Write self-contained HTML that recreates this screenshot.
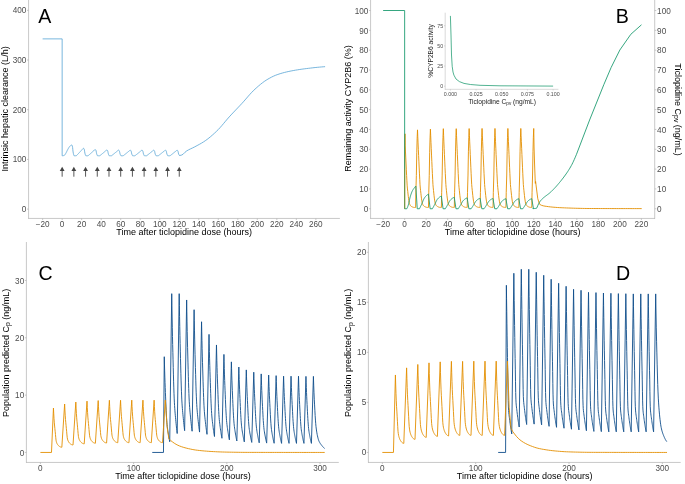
<!DOCTYPE html>
<html><head><meta charset="utf-8"><title>Figure</title>
<style>html,body{margin:0;padding:0;background:#fff;}svg{display:block}text{font-family:"Liberation Sans", Arial, Helvetica, sans-serif;}</style>
</head><body>
<svg width="685" height="484" viewBox="0 0 685 484">
<rect width="685" height="484" fill="#fff"/>
<line x1="28.58" y1="0" x2="28.58" y2="218.75" stroke="#b2b2b2" stroke-width="0.7"/>
<line x1="28.28" y1="218.45" x2="339.9" y2="218.45" stroke="#b2b2b2" stroke-width="0.7"/>
<line x1="26.98" y1="209.1" x2="28.58" y2="209.1" stroke="#b2b2b2" stroke-width="0.7"/>
<text x="26.38" y="212" font-size="8.2" fill="#4d4d4d" text-anchor="end" >0</text>
<line x1="26.98" y1="159.4" x2="28.58" y2="159.4" stroke="#b2b2b2" stroke-width="0.7"/>
<text x="26.38" y="162.3" font-size="8.2" fill="#4d4d4d" text-anchor="end" >100</text>
<line x1="26.98" y1="109.7" x2="28.58" y2="109.7" stroke="#b2b2b2" stroke-width="0.7"/>
<text x="26.38" y="112.6" font-size="8.2" fill="#4d4d4d" text-anchor="end" >200</text>
<line x1="26.98" y1="60" x2="28.58" y2="60" stroke="#b2b2b2" stroke-width="0.7"/>
<text x="26.38" y="62.9" font-size="8.2" fill="#4d4d4d" text-anchor="end" >300</text>
<line x1="26.98" y1="10.3" x2="28.58" y2="10.3" stroke="#b2b2b2" stroke-width="0.7"/>
<text x="26.38" y="13.2" font-size="8.2" fill="#4d4d4d" text-anchor="end" >400</text>
<line x1="42.63" y1="218.45" x2="42.63" y2="220.05" stroke="#b2b2b2" stroke-width="0.7"/>
<text x="42.63" y="226.8" font-size="8.2" fill="#4d4d4d" text-anchor="middle" >−20</text>
<line x1="62.15" y1="218.45" x2="62.15" y2="220.05" stroke="#b2b2b2" stroke-width="0.7"/>
<text x="62.15" y="226.8" font-size="8.2" fill="#4d4d4d" text-anchor="middle" >0</text>
<line x1="81.67" y1="218.45" x2="81.67" y2="220.05" stroke="#b2b2b2" stroke-width="0.7"/>
<text x="81.67" y="226.8" font-size="8.2" fill="#4d4d4d" text-anchor="middle" >20</text>
<line x1="101.18" y1="218.45" x2="101.18" y2="220.05" stroke="#b2b2b2" stroke-width="0.7"/>
<text x="101.18" y="226.8" font-size="8.2" fill="#4d4d4d" text-anchor="middle" >40</text>
<line x1="120.7" y1="218.45" x2="120.7" y2="220.05" stroke="#b2b2b2" stroke-width="0.7"/>
<text x="120.7" y="226.8" font-size="8.2" fill="#4d4d4d" text-anchor="middle" >60</text>
<line x1="140.21" y1="218.45" x2="140.21" y2="220.05" stroke="#b2b2b2" stroke-width="0.7"/>
<text x="140.21" y="226.8" font-size="8.2" fill="#4d4d4d" text-anchor="middle" >80</text>
<line x1="159.73" y1="218.45" x2="159.73" y2="220.05" stroke="#b2b2b2" stroke-width="0.7"/>
<text x="159.73" y="226.8" font-size="8.2" fill="#4d4d4d" text-anchor="middle" >100</text>
<line x1="179.25" y1="218.45" x2="179.25" y2="220.05" stroke="#b2b2b2" stroke-width="0.7"/>
<text x="179.25" y="226.8" font-size="8.2" fill="#4d4d4d" text-anchor="middle" >120</text>
<line x1="198.76" y1="218.45" x2="198.76" y2="220.05" stroke="#b2b2b2" stroke-width="0.7"/>
<text x="198.76" y="226.8" font-size="8.2" fill="#4d4d4d" text-anchor="middle" >140</text>
<line x1="218.28" y1="218.45" x2="218.28" y2="220.05" stroke="#b2b2b2" stroke-width="0.7"/>
<text x="218.28" y="226.8" font-size="8.2" fill="#4d4d4d" text-anchor="middle" >160</text>
<line x1="237.79" y1="218.45" x2="237.79" y2="220.05" stroke="#b2b2b2" stroke-width="0.7"/>
<text x="237.79" y="226.8" font-size="8.2" fill="#4d4d4d" text-anchor="middle" >180</text>
<line x1="257.31" y1="218.45" x2="257.31" y2="220.05" stroke="#b2b2b2" stroke-width="0.7"/>
<text x="257.31" y="226.8" font-size="8.2" fill="#4d4d4d" text-anchor="middle" >200</text>
<line x1="276.83" y1="218.45" x2="276.83" y2="220.05" stroke="#b2b2b2" stroke-width="0.7"/>
<text x="276.83" y="226.8" font-size="8.2" fill="#4d4d4d" text-anchor="middle" >220</text>
<line x1="296.34" y1="218.45" x2="296.34" y2="220.05" stroke="#b2b2b2" stroke-width="0.7"/>
<text x="296.34" y="226.8" font-size="8.2" fill="#4d4d4d" text-anchor="middle" >240</text>
<line x1="315.86" y1="218.45" x2="315.86" y2="220.05" stroke="#b2b2b2" stroke-width="0.7"/>
<text x="315.86" y="226.8" font-size="8.2" fill="#4d4d4d" text-anchor="middle" >260</text>
<text x="184.2" y="235.4" font-size="9.0" fill="#000" text-anchor="middle" >Time after ticlopidine dose (hours)</text>
<text x="0" y="0" font-size="9.0" fill="#000" text-anchor="middle" transform="translate(8.2,108.9) rotate(-90)">Intrinsic hepatic clearance (L/h)</text>
<polyline points="42.63,38.88 62.15,38.88 62.15,155.77 62.15,155.77 62.39,155.77 62.64,155.75 62.88,155.73 63.12,155.69 63.36,155.65 63.61,155.6 63.85,155.54 64.09,155.48 64.34,155.39 64.58,155.19 64.82,154.9 65.07,154.54 65.31,154.14 65.55,153.74 65.79,153.35 66.04,152.93 66.28,152.48 66.52,151.99 66.77,151.48 67.01,150.97 67.25,150.47 67.49,149.98 67.74,149.53 67.98,149.11 68.22,148.69 68.47,148.27 68.71,147.86 68.95,147.46 69.2,147.09 69.44,146.76 69.68,146.46 69.92,146.22 70.17,145.98 70.41,145.75 70.65,145.52 70.9,145.33 71.14,145.17 71.38,145.05 71.63,144.99 71.87,145.07 72.11,145.5 72.35,146.16 72.6,147.45 72.84,149.75 73.08,151.95 73.33,153.28 73.57,154.37 73.81,155.24 74.05,155.77 74.15,155.77 74.39,155.77 74.63,155.77 74.87,155.77 75.11,155.77 75.35,155.77 75.59,155.77 75.83,155.77 76.06,155.77 76.3,155.7 76.54,155.55 76.78,155.34 77.02,155.09 77.26,154.82 77.5,154.55 77.74,154.31 77.98,154.07 78.21,153.83 78.45,153.58 78.69,153.32 78.93,153.05 79.17,152.79 79.41,152.52 79.65,152.26 79.89,152.01 80.13,151.75 80.37,151.49 80.6,151.23 80.84,150.97 81.08,150.71 81.32,150.46 81.56,150.21 81.8,149.96 82.04,149.68 82.28,149.37 82.52,149.07 82.76,148.79 82.99,148.56 83.23,148.39 83.47,148.32 83.71,148.41 83.95,148.72 84.19,149.18 84.43,150.16 84.67,151.74 84.91,153.21 85.15,154.09 85.38,154.83 85.62,155.41 85.86,155.77 85.86,155.77 86.1,155.77 86.34,155.77 86.58,155.77 86.82,155.77 87.06,155.77 87.3,155.77 87.53,155.77 87.77,155.77 88.01,155.71 88.25,155.59 88.49,155.41 88.73,155.2 88.97,154.98 89.21,154.76 89.45,154.55 89.69,154.36 89.92,154.15 90.16,153.94 90.4,153.73 90.64,153.51 90.88,153.29 91.12,153.07 91.36,152.85 91.6,152.63 91.84,152.42 92.08,152.2 92.31,151.99 92.55,151.77 92.79,151.56 93.03,151.35 93.27,151.14 93.51,150.93 93.75,150.69 93.99,150.44 94.23,150.19 94.46,149.95 94.7,149.76 94.94,149.62 95.18,149.56 95.42,149.63 95.66,149.9 95.9,150.28 96.14,151.09 96.38,152.42 96.62,153.64 96.85,154.37 97.09,154.98 97.33,155.47 97.57,155.77 97.57,155.77 97.81,155.77 98.05,155.77 98.29,155.77 98.53,155.77 98.77,155.77 99.01,155.77 99.24,155.77 99.48,155.77 99.72,155.71 99.96,155.6 100.2,155.44 100.44,155.24 100.68,155.04 100.92,154.83 101.16,154.64 101.4,154.46 101.63,154.27 101.87,154.08 102.11,153.87 102.35,153.67 102.59,153.46 102.83,153.26 103.07,153.06 103.31,152.86 103.55,152.66 103.78,152.46 104.02,152.26 104.26,152.06 104.5,151.86 104.74,151.67 104.98,151.47 105.22,151.28 105.46,151.06 105.7,150.82 105.94,150.59 106.17,150.37 106.41,150.19 106.65,150.07 106.89,150.01 107.13,150.08 107.37,150.32 107.61,150.68 107.85,151.43 108.09,152.66 108.33,153.79 108.56,154.47 108.8,155.04 109.04,155.49 109.28,155.77 109.28,155.77 109.52,155.77 109.76,155.77 110,155.77 110.24,155.77 110.48,155.77 110.71,155.77 110.95,155.77 111.19,155.77 111.43,155.72 111.67,155.6 111.91,155.45 112.15,155.26 112.39,155.06 112.63,154.85 112.87,154.67 113.1,154.49 113.34,154.31 113.58,154.12 113.82,153.92 114.06,153.72 114.3,153.52 114.54,153.33 114.78,153.13 115.02,152.94 115.26,152.74 115.49,152.55 115.73,152.35 115.97,152.15 116.21,151.96 116.45,151.77 116.69,151.58 116.93,151.4 117.17,151.18 117.41,150.95 117.65,150.72 117.88,150.51 118.12,150.34 118.36,150.21 118.6,150.16 118.84,150.22 119.08,150.46 119.32,150.81 119.56,151.54 119.8,152.74 120.03,153.84 120.27,154.5 120.51,155.06 120.75,155.5 120.99,155.77 120.99,155.77 121.23,155.77 121.47,155.77 121.71,155.77 121.95,155.77 122.19,155.77 122.42,155.77 122.66,155.77 122.9,155.77 123.14,155.72 123.38,155.6 123.62,155.45 123.86,155.26 124.1,155.06 124.34,154.86 124.58,154.68 124.81,154.5 125.05,154.32 125.29,154.13 125.53,153.94 125.77,153.74 126.01,153.54 126.25,153.35 126.49,153.15 126.73,152.96 126.97,152.77 127.2,152.57 127.44,152.38 127.68,152.19 127.92,152 128.16,151.81 128.4,151.62 128.64,151.43 128.88,151.22 129.12,150.99 129.35,150.77 129.59,150.56 129.83,150.39 130.07,150.26 130.31,150.21 130.55,150.27 130.79,150.51 131.03,150.85 131.27,151.58 131.51,152.76 131.74,153.86 131.98,154.51 132.22,155.07 132.46,155.5 132.7,155.77 132.7,155.77 132.94,155.77 133.18,155.77 133.42,155.77 133.66,155.77 133.9,155.77 134.13,155.77 134.37,155.77 134.61,155.77 134.85,155.72 135.09,155.6 135.33,155.45 135.57,155.26 135.81,155.06 136.05,154.86 136.28,154.68 136.52,154.5 136.76,154.32 137,154.13 137.24,153.94 137.48,153.74 137.72,153.54 137.96,153.35 138.2,153.15 138.44,152.96 138.67,152.77 138.91,152.57 139.15,152.38 139.39,152.19 139.63,152 139.87,151.81 140.11,151.62 140.35,151.43 140.59,151.22 140.83,150.99 141.06,150.77 141.3,150.56 141.54,150.39 141.78,150.26 142.02,150.21 142.26,150.27 142.5,150.51 142.74,150.85 142.98,151.58 143.22,152.76 143.45,153.86 143.69,154.51 143.93,155.07 144.17,155.5 144.41,155.77 144.41,155.77 144.65,155.77 144.89,155.77 145.13,155.77 145.37,155.77 145.6,155.77 145.84,155.77 146.08,155.77 146.32,155.77 146.56,155.72 146.8,155.6 147.04,155.45 147.28,155.26 147.52,155.06 147.76,154.86 147.99,154.68 148.23,154.5 148.47,154.32 148.71,154.13 148.95,153.94 149.19,153.74 149.43,153.54 149.67,153.35 149.91,153.15 150.15,152.96 150.38,152.77 150.62,152.57 150.86,152.38 151.1,152.19 151.34,152 151.58,151.81 151.82,151.62 152.06,151.43 152.3,151.22 152.53,150.99 152.77,150.77 153.01,150.56 153.25,150.39 153.49,150.26 153.73,150.21 153.97,150.27 154.21,150.51 154.45,150.85 154.69,151.58 154.92,152.76 155.16,153.86 155.4,154.51 155.64,155.07 155.88,155.5 156.12,155.77 156.12,155.77 156.36,155.77 156.6,155.77 156.84,155.77 157.08,155.77 157.31,155.77 157.55,155.77 157.79,155.77 158.03,155.77 158.27,155.72 158.51,155.6 158.75,155.45 158.99,155.26 159.23,155.06 159.47,154.86 159.7,154.68 159.94,154.5 160.18,154.32 160.42,154.13 160.66,153.94 160.9,153.74 161.14,153.54 161.38,153.35 161.62,153.15 161.85,152.96 162.09,152.77 162.33,152.57 162.57,152.38 162.81,152.19 163.05,152 163.29,151.81 163.53,151.62 163.77,151.43 164.01,151.22 164.24,150.99 164.48,150.77 164.72,150.56 164.96,150.39 165.2,150.26 165.44,150.21 165.68,150.27 165.92,150.51 166.16,150.85 166.4,151.58 166.63,152.76 166.87,153.86 167.11,154.51 167.35,155.07 167.59,155.5 167.83,155.77 167.83,155.77 168.07,155.77 168.31,155.77 168.55,155.77 168.79,155.77 169.02,155.77 169.26,155.77 169.5,155.77 169.74,155.77 169.98,155.72 170.22,155.61 170.46,155.45 170.7,155.27 170.94,155.07 171.17,154.87 171.41,154.69 171.65,154.52 171.89,154.34 172.13,154.15 172.37,153.96 172.61,153.76 172.85,153.56 173.09,153.37 173.33,153.18 173.56,152.99 173.8,152.79 174.04,152.6 174.28,152.41 174.52,152.22 174.76,152.03 175,151.84 175.24,151.66 175.48,151.47 175.72,151.26 175.95,151.04 176.19,150.81 176.43,150.61 176.67,150.43 176.91,150.31 177.15,150.26 177.39,150.32 177.63,150.56 177.87,150.9 178.1,151.64 178.34,152.84 178.58,153.9 178.82,154.47 179.06,154.93 179.3,155.28 179.54,155.42 179.43,155.5 181.27,155.19 183.12,154.24 184.96,152.31 186.8,150.84 188.65,149.8 190.49,148.9 192.34,148.04 194.18,147.15 196.02,146.16 197.87,145.17 199.71,144.16 201.55,143.11 203.4,141.98 205.24,140.76 207.09,139.43 208.93,138 210.77,136.49 212.62,134.89 214.46,133.22 216.3,131.49 218.15,129.68 219.99,127.71 221.84,125.6 223.68,123.42 225.52,121.21 227.37,119.02 229.21,116.92 231.05,114.91 232.9,112.94 234.74,111 236.59,109.07 238.43,107.14 240.27,105.19 242.12,103.22 243.96,101.17 245.8,99.05 247.65,96.92 249.49,94.81 251.34,92.78 253.18,90.88 255.02,89.13 256.87,87.46 258.71,85.84 260.56,84.3 262.4,82.84 264.24,81.48 266.09,80.24 267.93,79.12 269.77,78.07 271.62,77.09 273.46,76.19 275.31,75.39 277.15,74.69 278.99,74.06 280.84,73.48 282.68,72.94 284.52,72.45 286.37,71.99 288.21,71.57 290.06,71.18 291.9,70.82 293.74,70.47 295.59,70.15 297.43,69.85 299.27,69.56 301.12,69.29 302.96,69.03 304.81,68.79 306.65,68.55 308.49,68.32 310.34,68.1 312.18,67.88 314.02,67.67 315.87,67.48 317.71,67.29 319.56,67.11 321.4,66.95 323.24,66.8 325.09,66.66" fill="none" stroke="#56a3d4" stroke-width="0.8" stroke-linejoin="miter" />
<path d="M62.15,176.7 V170.5" stroke="#444" stroke-width="0.9" fill="none"/>
<path d="M62.15,166.7 L64.55,170.9 L59.75,170.9 Z" fill="#444"/>
<path d="M73.86,176.7 V170.5" stroke="#444" stroke-width="0.9" fill="none"/>
<path d="M73.86,166.7 L76.26,170.9 L71.46,170.9 Z" fill="#444"/>
<path d="M85.57,176.7 V170.5" stroke="#444" stroke-width="0.9" fill="none"/>
<path d="M85.57,166.7 L87.97,170.9 L83.17,170.9 Z" fill="#444"/>
<path d="M97.28,176.7 V170.5" stroke="#444" stroke-width="0.9" fill="none"/>
<path d="M97.28,166.7 L99.68,170.9 L94.88,170.9 Z" fill="#444"/>
<path d="M108.99,176.7 V170.5" stroke="#444" stroke-width="0.9" fill="none"/>
<path d="M108.99,166.7 L111.39,170.9 L106.59,170.9 Z" fill="#444"/>
<path d="M120.7,176.7 V170.5" stroke="#444" stroke-width="0.9" fill="none"/>
<path d="M120.7,166.7 L123.1,170.9 L118.3,170.9 Z" fill="#444"/>
<path d="M132.41,176.7 V170.5" stroke="#444" stroke-width="0.9" fill="none"/>
<path d="M132.41,166.7 L134.81,170.9 L130.01,170.9 Z" fill="#444"/>
<path d="M144.12,176.7 V170.5" stroke="#444" stroke-width="0.9" fill="none"/>
<path d="M144.12,166.7 L146.52,170.9 L141.72,170.9 Z" fill="#444"/>
<path d="M155.83,176.7 V170.5" stroke="#444" stroke-width="0.9" fill="none"/>
<path d="M155.83,166.7 L158.23,170.9 L153.43,170.9 Z" fill="#444"/>
<path d="M167.54,176.7 V170.5" stroke="#444" stroke-width="0.9" fill="none"/>
<path d="M167.54,166.7 L169.94,170.9 L165.14,170.9 Z" fill="#444"/>
<path d="M179.25,176.7 V170.5" stroke="#444" stroke-width="0.9" fill="none"/>
<path d="M179.25,166.7 L181.65,170.9 L176.85,170.9 Z" fill="#444"/>
<text x="44.9" y="23" font-size="19.6" fill="#000" text-anchor="middle" font-family="DejaVu Sans, sans-serif">A</text>
<line x1="370.58" y1="0" x2="370.58" y2="218.75" stroke="#b2b2b2" stroke-width="0.7"/>
<line x1="370.28" y1="218.45" x2="655" y2="218.45" stroke="#b2b2b2" stroke-width="0.7"/>
<line x1="654.7" y1="0" x2="654.7" y2="218.75" stroke="#b2b2b2" stroke-width="0.7"/>
<line x1="368.98" y1="208.75" x2="370.58" y2="208.75" stroke="#b2b2b2" stroke-width="0.7"/>
<text x="368.38" y="211.95" font-size="8.2" fill="#4d4d4d" text-anchor="end" >0</text>
<line x1="654.7" y1="208.75" x2="656.3" y2="208.75" stroke="#b2b2b2" stroke-width="0.7"/>
<text x="657.1" y="211.95" font-size="8.2" fill="#4d4d4d" text-anchor="start" >0</text>
<line x1="368.98" y1="188.93" x2="370.58" y2="188.93" stroke="#b2b2b2" stroke-width="0.7"/>
<text x="368.38" y="192.12" font-size="8.2" fill="#4d4d4d" text-anchor="end" >10</text>
<line x1="654.7" y1="188.93" x2="656.3" y2="188.93" stroke="#b2b2b2" stroke-width="0.7"/>
<text x="657.1" y="192.12" font-size="8.2" fill="#4d4d4d" text-anchor="start" >10</text>
<line x1="368.98" y1="169.1" x2="370.58" y2="169.1" stroke="#b2b2b2" stroke-width="0.7"/>
<text x="368.38" y="172.3" font-size="8.2" fill="#4d4d4d" text-anchor="end" >20</text>
<line x1="654.7" y1="169.1" x2="656.3" y2="169.1" stroke="#b2b2b2" stroke-width="0.7"/>
<text x="657.1" y="172.3" font-size="8.2" fill="#4d4d4d" text-anchor="start" >20</text>
<line x1="368.98" y1="149.28" x2="370.58" y2="149.28" stroke="#b2b2b2" stroke-width="0.7"/>
<text x="368.38" y="152.47" font-size="8.2" fill="#4d4d4d" text-anchor="end" >30</text>
<line x1="654.7" y1="149.28" x2="656.3" y2="149.28" stroke="#b2b2b2" stroke-width="0.7"/>
<text x="657.1" y="152.47" font-size="8.2" fill="#4d4d4d" text-anchor="start" >30</text>
<line x1="368.98" y1="129.45" x2="370.58" y2="129.45" stroke="#b2b2b2" stroke-width="0.7"/>
<text x="368.38" y="132.65" font-size="8.2" fill="#4d4d4d" text-anchor="end" >40</text>
<line x1="654.7" y1="129.45" x2="656.3" y2="129.45" stroke="#b2b2b2" stroke-width="0.7"/>
<text x="657.1" y="132.65" font-size="8.2" fill="#4d4d4d" text-anchor="start" >40</text>
<line x1="368.98" y1="109.62" x2="370.58" y2="109.62" stroke="#b2b2b2" stroke-width="0.7"/>
<text x="368.38" y="112.83" font-size="8.2" fill="#4d4d4d" text-anchor="end" >50</text>
<line x1="654.7" y1="109.62" x2="656.3" y2="109.62" stroke="#b2b2b2" stroke-width="0.7"/>
<text x="657.1" y="112.83" font-size="8.2" fill="#4d4d4d" text-anchor="start" >50</text>
<line x1="368.98" y1="89.8" x2="370.58" y2="89.8" stroke="#b2b2b2" stroke-width="0.7"/>
<text x="368.38" y="93" font-size="8.2" fill="#4d4d4d" text-anchor="end" >60</text>
<line x1="654.7" y1="89.8" x2="656.3" y2="89.8" stroke="#b2b2b2" stroke-width="0.7"/>
<text x="657.1" y="93" font-size="8.2" fill="#4d4d4d" text-anchor="start" >60</text>
<line x1="368.98" y1="69.97" x2="370.58" y2="69.97" stroke="#b2b2b2" stroke-width="0.7"/>
<text x="368.38" y="73.17" font-size="8.2" fill="#4d4d4d" text-anchor="end" >70</text>
<line x1="654.7" y1="69.97" x2="656.3" y2="69.97" stroke="#b2b2b2" stroke-width="0.7"/>
<text x="657.1" y="73.17" font-size="8.2" fill="#4d4d4d" text-anchor="start" >70</text>
<line x1="368.98" y1="50.15" x2="370.58" y2="50.15" stroke="#b2b2b2" stroke-width="0.7"/>
<text x="368.38" y="53.35" font-size="8.2" fill="#4d4d4d" text-anchor="end" >80</text>
<line x1="654.7" y1="50.15" x2="656.3" y2="50.15" stroke="#b2b2b2" stroke-width="0.7"/>
<text x="657.1" y="53.35" font-size="8.2" fill="#4d4d4d" text-anchor="start" >80</text>
<line x1="368.98" y1="30.33" x2="370.58" y2="30.33" stroke="#b2b2b2" stroke-width="0.7"/>
<text x="368.38" y="33.53" font-size="8.2" fill="#4d4d4d" text-anchor="end" >90</text>
<line x1="654.7" y1="30.33" x2="656.3" y2="30.33" stroke="#b2b2b2" stroke-width="0.7"/>
<text x="657.1" y="33.53" font-size="8.2" fill="#4d4d4d" text-anchor="start" >90</text>
<line x1="368.98" y1="10.5" x2="370.58" y2="10.5" stroke="#b2b2b2" stroke-width="0.7"/>
<text x="368.38" y="13.7" font-size="8.2" fill="#4d4d4d" text-anchor="end" >100</text>
<line x1="654.7" y1="10.5" x2="656.3" y2="10.5" stroke="#b2b2b2" stroke-width="0.7"/>
<text x="657.1" y="13.7" font-size="8.2" fill="#4d4d4d" text-anchor="start" >100</text>
<line x1="383.13" y1="218.45" x2="383.13" y2="220.05" stroke="#b2b2b2" stroke-width="0.7"/>
<text x="383.13" y="226.8" font-size="8.2" fill="#4d4d4d" text-anchor="middle" >−20</text>
<line x1="404.65" y1="218.45" x2="404.65" y2="220.05" stroke="#b2b2b2" stroke-width="0.7"/>
<text x="404.65" y="226.8" font-size="8.2" fill="#4d4d4d" text-anchor="middle" >0</text>
<line x1="426.17" y1="218.45" x2="426.17" y2="220.05" stroke="#b2b2b2" stroke-width="0.7"/>
<text x="426.17" y="226.8" font-size="8.2" fill="#4d4d4d" text-anchor="middle" >20</text>
<line x1="447.69" y1="218.45" x2="447.69" y2="220.05" stroke="#b2b2b2" stroke-width="0.7"/>
<text x="447.69" y="226.8" font-size="8.2" fill="#4d4d4d" text-anchor="middle" >40</text>
<line x1="469.22" y1="218.45" x2="469.22" y2="220.05" stroke="#b2b2b2" stroke-width="0.7"/>
<text x="469.22" y="226.8" font-size="8.2" fill="#4d4d4d" text-anchor="middle" >60</text>
<line x1="490.74" y1="218.45" x2="490.74" y2="220.05" stroke="#b2b2b2" stroke-width="0.7"/>
<text x="490.74" y="226.8" font-size="8.2" fill="#4d4d4d" text-anchor="middle" >80</text>
<line x1="512.26" y1="218.45" x2="512.26" y2="220.05" stroke="#b2b2b2" stroke-width="0.7"/>
<text x="512.26" y="226.8" font-size="8.2" fill="#4d4d4d" text-anchor="middle" >100</text>
<line x1="533.78" y1="218.45" x2="533.78" y2="220.05" stroke="#b2b2b2" stroke-width="0.7"/>
<text x="533.78" y="226.8" font-size="8.2" fill="#4d4d4d" text-anchor="middle" >120</text>
<line x1="555.3" y1="218.45" x2="555.3" y2="220.05" stroke="#b2b2b2" stroke-width="0.7"/>
<text x="555.3" y="226.8" font-size="8.2" fill="#4d4d4d" text-anchor="middle" >140</text>
<line x1="576.83" y1="218.45" x2="576.83" y2="220.05" stroke="#b2b2b2" stroke-width="0.7"/>
<text x="576.83" y="226.8" font-size="8.2" fill="#4d4d4d" text-anchor="middle" >160</text>
<line x1="598.35" y1="218.45" x2="598.35" y2="220.05" stroke="#b2b2b2" stroke-width="0.7"/>
<text x="598.35" y="226.8" font-size="8.2" fill="#4d4d4d" text-anchor="middle" >180</text>
<line x1="619.87" y1="218.45" x2="619.87" y2="220.05" stroke="#b2b2b2" stroke-width="0.7"/>
<text x="619.87" y="226.8" font-size="8.2" fill="#4d4d4d" text-anchor="middle" >200</text>
<line x1="641.39" y1="218.45" x2="641.39" y2="220.05" stroke="#b2b2b2" stroke-width="0.7"/>
<text x="641.39" y="226.8" font-size="8.2" fill="#4d4d4d" text-anchor="middle" >220</text>
<text x="512.64" y="235.4" font-size="9.0" fill="#000" text-anchor="middle" >Time after ticlopidine dose (hours)</text>
<text x="0" y="0" font-size="9.0" fill="#000" text-anchor="middle" transform="translate(351.3,108.5) rotate(-90)">Remaining activity CYP2B6 (%)</text>
<text x="0" y="0" font-size="9.0" fill="#000" text-anchor="middle" transform="translate(675.3,109.6) rotate(90)">Ticlopidine C<tspan font-size="6.9" dy="1.6">pv</tspan><tspan dy="-1.6"> (ng/mL)</tspan></text>
<polyline points="404.65,208.75 404.7,149.28 404.97,133.81 405.21,145.89 405.49,151.96 405.78,157.96 406.06,163.94 406.34,169.8 406.62,175.46 406.9,180.83 407.18,185.9 407.46,188.98 407.75,191.4 408.03,193.97 408.31,196.45 408.59,198.68 408.87,200.56 409.15,202.24 409.43,203.46 409.72,204.27 410,204.91 410.28,205.38 410.56,205.72 410.84,205.99 411.12,206.23 411.4,206.43 411.69,206.59 411.97,206.74 412.25,206.87 412.53,207 412.81,207.12 413.09,207.22 413.37,207.31 413.66,207.38 413.94,207.42 414.22,207.45 414.5,207.47 414.78,207.48 415.06,207.5 415.34,207.5 415.63,207.51 415.84,192.97 416.35,175.61 416.76,152.73 417.13,138.53 417.5,129.85 417.78,136.43 418.06,142.91 418.34,149.27 418.62,155.56 418.91,161.82 419.19,167.96 419.47,173.88 419.75,179.51 420.03,184.81 420.31,188.05 420.59,190.58 420.88,193.26 421.16,195.87 421.44,198.2 421.72,200.17 422,201.93 422.28,203.21 422.56,204.05 422.85,204.72 423.13,205.22 423.41,205.57 423.69,205.86 423.97,206.11 424.25,206.32 424.53,206.49 424.82,206.65 425.1,206.78 425.38,206.91 425.66,207.04 425.94,207.15 426.22,207.24 426.5,207.32 426.79,207.36 427.07,207.39 427.35,207.41 427.63,207.42 427.91,207.44 428.19,207.45 428.47,207.45 428.75,192.83 429.26,175.32 429.67,152.24 430.05,137.91 430.41,129.15 430.69,135.79 430.97,142.33 431.26,148.75 431.54,155.09 431.82,161.4 432.1,167.6 432.38,173.57 432.66,179.25 432.94,184.6 433.23,187.86 433.51,190.42 433.79,193.13 434.07,195.76 434.35,198.11 434.63,200.09 434.91,201.87 435.2,203.16 435.48,204.01 435.76,204.69 436.04,205.19 436.32,205.55 436.6,205.84 436.88,206.08 437.17,206.29 437.45,206.47 437.73,206.63 438.01,206.77 438.29,206.9 438.57,207.02 438.86,207.14 439.14,207.23 439.42,207.3 439.7,207.35 439.98,207.37 440.26,207.39 440.54,207.41 440.83,207.43 441.11,207.43 441.39,207.44 441.67,192.73 442.17,175.11 442.58,151.88 442.96,137.47 443.33,128.66 443.61,135.34 443.89,141.92 444.17,148.37 444.45,154.75 444.73,161.11 445.01,167.34 445.3,173.35 445.58,179.07 445.86,184.45 446.14,187.73 446.42,190.31 446.7,193.03 446.98,195.68 447.27,198.04 447.55,200.04 447.83,201.83 448.11,203.13 448.39,203.98 448.67,204.66 448.95,205.17 449.24,205.53 449.52,205.82 449.8,206.07 450.08,206.28 450.36,206.46 450.64,206.61 450.92,206.75 451.21,206.89 451.49,207.01 451.77,207.13 452.05,207.22 452.33,207.29 452.61,207.34 452.89,207.37 453.18,207.39 453.46,207.4 453.74,207.42 454.02,207.43 454.3,207.43 454.58,192.73 455.09,175.11 455.5,151.88 455.87,137.47 456.24,128.66 456.52,135.34 456.8,141.92 457.08,148.37 457.36,154.75 457.65,161.11 457.93,167.34 458.21,173.35 458.49,179.07 458.77,184.45 459.05,187.73 459.33,190.31 459.62,193.03 459.9,195.68 460.18,198.04 460.46,200.04 460.74,201.83 461.02,203.13 461.3,203.98 461.59,204.66 461.87,205.17 462.15,205.53 462.43,205.82 462.71,206.07 462.99,206.28 463.27,206.46 463.56,206.61 463.84,206.75 464.12,206.89 464.4,207.01 464.68,207.13 464.96,207.22 465.24,207.29 465.53,207.34 465.81,207.37 466.09,207.39 466.37,207.4 466.65,207.42 466.93,207.43 467.21,207.43 467.49,192.71 468,175.07 468.41,151.81 468.79,137.38 469.15,128.56 469.43,135.25 469.71,141.84 470,148.3 470.28,154.69 470.56,161.05 470.84,167.29 471.12,173.31 471.4,179.03 471.68,184.42 471.97,187.71 472.25,190.28 472.53,193.01 472.81,195.66 473.09,198.03 473.37,200.03 473.65,201.82 473.94,203.12 474.22,203.98 474.5,204.66 474.78,205.17 475.06,205.52 475.34,205.82 475.62,206.06 475.91,206.28 476.19,206.46 476.47,206.61 476.75,206.75 477.03,206.88 477.31,207.01 477.59,207.12 477.88,207.22 478.16,207.29 478.44,207.34 478.72,207.36 479,207.38 479.28,207.4 479.56,207.42 479.85,207.42 480.13,207.43 480.41,192.69 480.91,175.03 481.32,151.74 481.7,137.29 482.06,128.46 482.35,135.16 482.63,141.75 482.91,148.23 483.19,154.62 483.47,160.99 483.75,167.24 484.03,173.26 484.32,179 484.6,184.39 484.88,187.68 485.16,190.26 485.44,192.99 485.72,195.64 486,198.01 486.29,200.02 486.57,201.81 486.85,203.12 487.13,203.97 487.41,204.65 487.69,205.16 487.97,205.52 488.26,205.81 488.54,206.06 488.82,206.27 489.1,206.45 489.38,206.61 489.66,206.75 489.94,206.88 490.23,207.01 490.51,207.12 490.79,207.22 491.07,207.29 491.35,207.34 491.63,207.36 491.92,207.38 492.2,207.4 492.48,207.41 492.76,207.42 493.04,207.43 493.32,192.69 493.83,175.03 494.24,151.74 494.61,137.29 494.98,128.46 495.26,135.16 495.54,141.75 495.82,148.23 496.1,154.62 496.39,160.99 496.67,167.24 496.95,173.26 497.23,179 497.51,184.39 497.79,187.68 498.07,190.26 498.36,192.99 498.64,195.64 498.92,198.01 499.2,200.02 499.48,201.81 499.76,203.12 500.04,203.97 500.33,204.65 500.61,205.16 500.89,205.52 501.17,205.81 501.45,206.06 501.73,206.27 502.01,206.45 502.3,206.61 502.58,206.75 502.86,206.88 503.14,207.01 503.42,207.12 503.7,207.22 503.98,207.29 504.27,207.34 504.55,207.36 504.83,207.38 505.11,207.4 505.39,207.41 505.67,207.42 505.95,207.43 506.23,192.69 506.74,175.03 507.15,151.74 507.53,137.29 507.89,128.46 508.17,135.16 508.45,141.75 508.74,148.23 509.02,154.62 509.3,160.99 509.58,167.24 509.86,173.26 510.14,179 510.42,184.39 510.71,187.68 510.99,190.26 511.27,192.99 511.55,195.64 511.83,198.01 512.11,200.02 512.39,201.81 512.68,203.12 512.96,203.97 513.24,204.65 513.52,205.16 513.8,205.52 514.08,205.81 514.36,206.06 514.65,206.27 514.93,206.45 515.21,206.61 515.49,206.75 515.77,206.88 516.05,207.01 516.33,207.12 516.62,207.22 516.9,207.29 517.18,207.34 517.46,207.36 517.74,207.38 518.02,207.4 518.3,207.41 518.59,207.42 518.87,207.43 519.15,192.69 519.65,175.03 520.06,151.74 520.44,137.29 520.8,128.46 521.09,135.16 521.37,141.75 521.65,148.23 521.93,154.62 522.21,160.99 522.49,167.24 522.77,173.26 523.06,179 523.34,184.39 523.62,187.68 523.9,190.26 524.18,192.99 524.46,195.64 524.74,198.01 525.03,200.02 525.31,201.81 525.59,203.12 525.87,203.97 526.15,204.65 526.43,205.16 526.71,205.52 527,205.81 527.28,206.06 527.56,206.27 527.84,206.45 528.12,206.61 528.4,206.75 528.68,206.88 528.97,207.01 529.25,207.12 529.53,207.22 529.81,207.29 530.09,207.34 530.37,207.36 530.65,207.38 530.94,207.4 531.22,207.41 531.5,207.42 531.78,207.43 532.06,192.69 532.57,175.03 532.97,151.74 533.35,137.29 533.72,128.46 534.05,147 534.6,165 535.3,183.4 535.6,181.5 536,184.9 537.79,198.75 539.58,204.24 541.37,205.26 543.17,205.8 544.96,206.16 546.75,206.42 548.54,206.66 550.33,206.88 552.12,207.07 553.92,207.24 555.71,207.39 557.5,207.51 559.29,207.62 561.08,207.71 562.87,207.79 564.66,207.86 566.46,207.94 568.25,208.01 570.04,208.07 571.83,208.14 573.62,208.19 575.41,208.25 577.21,208.3 579,208.34 580.79,208.38 582.58,208.42 584.37,208.45 586.16,208.47 587.95,208.49 589.75,208.5 591.54,208.51 593.33,208.51 595.12,208.52 596.91,208.53 598.7,208.53 600.49,208.54 602.29,208.54 604.08,208.55 605.87,208.55 607.66,208.56 609.45,208.56 611.24,208.57 613.04,208.57 614.83,208.57 616.62,208.58 618.41,208.58 620.2,208.58 621.99,208.59 623.78,208.59 625.58,208.59 627.37,208.59 629.16,208.59 630.95,208.6 632.74,208.6 634.53,208.6 636.33,208.6 638.12,208.6 639.91,208.6 641.7,208.6" fill="none" stroke="#E38E00" stroke-width="0.9" stroke-linejoin="miter" />
<polyline points="383.13,10.5 404.65,10.5 404.65,208.75 406.8,208.75 407.11,208.16 407.43,207.46 407.74,206.67 408.05,205.8 408.36,204.82 408.67,203.61 408.98,202.23 409.3,200.77 409.61,199.31 409.92,197.95 410.23,196.77 410.54,195.74 410.85,194.76 411.17,193.83 411.48,192.96 411.79,192.16 412.1,191.44 412.41,190.81 412.72,190.24 413.04,189.72 413.35,189.24 413.66,188.79 413.97,188.36 414.28,187.94 414.59,187.52 414.91,187.13 415.22,186.75 415.53,186.39 415.84,186.05 417.24,208.75 419.5,208.75 419.81,208.1 420.12,207.44 420.42,206.79 420.73,206.13 421.04,205.47 421.35,204.8 421.66,204.13 421.96,203.43 422.27,202.69 422.58,201.94 422.89,201.19 423.2,200.45 423.5,199.74 423.81,199.08 424.12,198.48 424.43,197.95 424.74,197.5 425.04,197.08 425.35,196.7 425.66,196.35 425.97,196.03 426.28,195.73 426.58,195.45 426.89,195.19 427.2,194.95 427.51,194.73 427.82,194.52 428.12,194.34 428.43,194.18 430.15,208.75 432.41,208.75 432.72,208.18 433.03,207.61 433.34,207.04 433.65,206.47 433.95,205.89 434.26,205.31 434.57,204.73 434.88,204.12 435.19,203.48 435.49,202.82 435.8,202.17 436.11,201.52 436.42,200.91 436.73,200.33 437.03,199.8 437.34,199.34 437.65,198.95 437.96,198.59 438.27,198.26 438.57,197.95 438.88,197.67 439.19,197.41 439.5,197.17 439.81,196.95 440.11,196.74 440.42,196.54 440.73,196.36 441.04,196.2 441.35,196.06 443.07,208.75 445.33,208.75 445.63,208.24 445.94,207.72 446.25,207.2 446.56,206.68 446.87,206.16 447.17,205.64 447.48,205.11 447.79,204.55 448.1,203.97 448.41,203.38 448.71,202.78 449.02,202.2 449.33,201.64 449.64,201.12 449.95,200.64 450.25,200.22 450.56,199.87 450.87,199.54 451.18,199.24 451.49,198.97 451.79,198.71 452.1,198.47 452.41,198.26 452.72,198.05 453.03,197.86 453.33,197.69 453.64,197.52 453.95,197.38 454.26,197.25 455.98,208.75 458.24,208.75 458.55,208.26 458.86,207.77 459.16,207.28 459.47,206.79 459.78,206.29 460.09,205.8 460.4,205.3 460.7,204.77 461.01,204.22 461.32,203.66 461.63,203.09 461.94,202.54 462.24,202.01 462.55,201.51 462.86,201.06 463.17,200.67 463.48,200.33 463.78,200.02 464.09,199.73 464.4,199.47 464.71,199.23 465.02,199.01 465.32,198.8 465.63,198.61 465.94,198.43 466.25,198.26 466.56,198.1 466.86,197.97 467.17,197.85 468.89,208.75 471.15,208.75 471.46,208.28 471.77,207.81 472.08,207.34 472.38,206.86 472.69,206.38 473,205.9 473.31,205.42 473.62,204.91 473.92,204.38 474.23,203.84 474.54,203.3 474.85,202.77 475.16,202.26 475.46,201.78 475.77,201.34 476.08,200.96 476.39,200.63 476.7,200.34 477,200.06 477.31,199.81 477.62,199.58 477.93,199.36 478.24,199.16 478.54,198.98 478.85,198.8 479.16,198.64 479.47,198.49 479.78,198.36 480.08,198.24 481.81,208.75 484.07,208.75 484.37,208.29 484.68,207.83 484.99,207.36 485.3,206.9 485.61,206.43 485.91,205.96 486.22,205.48 486.53,204.99 486.84,204.46 487.15,203.93 487.45,203.4 487.76,202.88 488.07,202.38 488.38,201.91 488.69,201.48 488.99,201.11 489.3,200.79 489.61,200.5 489.92,200.23 490.23,199.98 490.53,199.75 490.84,199.54 491.15,199.34 491.46,199.16 491.77,198.99 492.07,198.83 492.38,198.69 492.69,198.55 493,198.44 494.72,208.75 496.98,208.75 497.29,208.3 497.6,207.84 497.9,207.39 498.21,206.93 498.52,206.47 498.83,206.01 499.14,205.55 499.44,205.06 499.75,204.55 500.06,204.03 500.37,203.5 500.68,202.99 500.98,202.5 501.29,202.04 501.6,201.62 501.91,201.25 502.22,200.94 502.52,200.65 502.83,200.39 503.14,200.15 503.45,199.92 503.76,199.71 504.06,199.52 504.37,199.34 504.68,199.18 504.99,199.02 505.3,198.88 505.6,198.75 505.91,198.64 507.63,208.75 509.89,208.75 510.2,208.3 510.51,207.84 510.82,207.39 511.12,206.93 511.43,206.47 511.74,206.01 512.05,205.55 512.36,205.06 512.66,204.55 512.97,204.03 513.28,203.5 513.59,202.99 513.9,202.5 514.2,202.04 514.51,201.62 514.82,201.25 515.13,200.94 515.44,200.65 515.74,200.39 516.05,200.15 516.36,199.92 516.67,199.71 516.98,199.52 517.28,199.34 517.59,199.18 517.9,199.02 518.21,198.88 518.52,198.75 518.82,198.64 520.55,208.75 522.81,208.75 523.11,208.3 523.42,207.84 523.73,207.39 524.04,206.93 524.35,206.47 524.65,206.01 524.96,205.55 525.27,205.06 525.58,204.55 525.89,204.03 526.19,203.5 526.5,202.99 526.81,202.5 527.12,202.04 527.43,201.62 527.73,201.25 528.04,200.94 528.35,200.65 528.66,200.39 528.97,200.15 529.27,199.92 529.58,199.71 529.89,199.52 530.2,199.34 530.51,199.18 530.81,199.02 531.12,198.88 531.43,198.75 531.74,198.64 533.46,208.75 532.77,208.5 533.51,208.5 534.25,208.49 534.99,208.47 535.73,208.43 536.48,208.35 537.22,206.99 537.96,205.2 538.7,203.62 539.44,202.24 540.18,201.2 540.92,200.31 541.66,199.51 542.41,198.77 543.15,198.09 543.89,197.45 544.63,196.85 545.37,196.27 546.11,195.72 546.85,195.17 547.59,194.62 548.33,194.06 549.08,193.47 549.82,192.85 550.56,192.19 551.3,191.5 552.04,190.78 552.78,190.04 553.52,189.29 554.26,188.51 555.01,187.72 555.75,186.91 556.49,186.09 557.23,185.25 557.97,184.39 558.71,183.51 559.45,182.62 560.19,181.72 560.94,180.8 561.68,179.86 562.42,178.92 563.16,177.96 563.9,176.98 564.64,175.98 565.38,174.96 566.12,173.91 566.86,172.84 567.61,171.73 568.35,170.59 569.09,169.41 569.83,168.19 570.57,166.93 571.31,165.62 572.05,164.22 572.79,162.73 573.54,161.16 574.28,159.52 575.02,157.82 575.76,156.08 576.5,154.3 589.6,120 603.8,84.7 611.1,67.55 619.85,50 630.8,34.3 641.46,24.8" fill="none" stroke="#1a9a6e" stroke-width="0.88" stroke-linejoin="miter" />
<line x1="404.8" y1="208.75" x2="404.8" y2="169.1" stroke="#E38E00" stroke-width="0.8" opacity="0.4"/>
<text x="622.3" y="23" font-size="19.6" fill="#000" text-anchor="middle" font-family="DejaVu Sans, sans-serif">B</text>
<line x1="445.2" y1="12.7" x2="445.2" y2="89.6" stroke="#b2b2b2" stroke-width="0.5"/>
<line x1="444.9" y1="89.3" x2="558.4" y2="89.3" stroke="#b2b2b2" stroke-width="0.5"/>
<line x1="444" y1="86.2" x2="445.2" y2="86.2" stroke="#b2b2b2" stroke-width="0.5"/>
<text x="443.2" y="88.1" font-size="5.3" fill="#4d4d4d" text-anchor="end" >0</text>
<line x1="444" y1="66.05" x2="445.2" y2="66.05" stroke="#b2b2b2" stroke-width="0.5"/>
<text x="443.2" y="67.95" font-size="5.3" fill="#4d4d4d" text-anchor="end" >25</text>
<line x1="444" y1="45.9" x2="445.2" y2="45.9" stroke="#b2b2b2" stroke-width="0.5"/>
<text x="443.2" y="47.8" font-size="5.3" fill="#4d4d4d" text-anchor="end" >50</text>
<line x1="444" y1="25.75" x2="445.2" y2="25.75" stroke="#b2b2b2" stroke-width="0.5"/>
<text x="443.2" y="27.65" font-size="5.3" fill="#4d4d4d" text-anchor="end" >75</text>
<line x1="450.4" y1="89.3" x2="450.4" y2="90.5" stroke="#b2b2b2" stroke-width="0.5"/>
<text x="450.4" y="95.6" font-size="5.3" fill="#4d4d4d" text-anchor="middle" >0.000</text>
<line x1="476.07" y1="89.3" x2="476.07" y2="90.5" stroke="#b2b2b2" stroke-width="0.5"/>
<text x="476.07" y="95.6" font-size="5.3" fill="#4d4d4d" text-anchor="middle" >0.025</text>
<line x1="501.75" y1="89.3" x2="501.75" y2="90.5" stroke="#b2b2b2" stroke-width="0.5"/>
<text x="501.75" y="95.6" font-size="5.3" fill="#4d4d4d" text-anchor="middle" >0.050</text>
<line x1="527.42" y1="89.3" x2="527.42" y2="90.5" stroke="#b2b2b2" stroke-width="0.5"/>
<text x="527.42" y="95.6" font-size="5.3" fill="#4d4d4d" text-anchor="middle" >0.075</text>
<line x1="553.1" y1="89.3" x2="553.1" y2="90.5" stroke="#b2b2b2" stroke-width="0.5"/>
<text x="553.1" y="95.6" font-size="5.3" fill="#4d4d4d" text-anchor="middle" >0.100</text>
<text x="502.1" y="103.5" font-size="6.65" fill="#222" text-anchor="middle" >Ticlopidine C<tspan font-size="4.6" dy="1.1">pv</tspan><tspan dy="-1.1"> (ng/mL)</tspan></text>
<text x="0" y="0" font-size="6.65" fill="#222" text-anchor="middle" transform="translate(433.4,50.9) rotate(-90)">%CYP2B6 activity</text>
<polyline points="450.4,15.9 451,35 451.5,55 452.2,66.3 453,72 453.9,75.1 456,79 459.4,81.6 464,83.4 470.4,84.5 480,85.3 500,85.8 553.1,86.1" fill="none" stroke="#1a9a6e" stroke-width="0.75" stroke-linejoin="miter" />
<line x1="26.4" y1="242" x2="26.4" y2="462.75" stroke="#b2b2b2" stroke-width="0.7"/>
<line x1="26.1" y1="462.45" x2="338.8" y2="462.45" stroke="#b2b2b2" stroke-width="0.7"/>
<line x1="24.8" y1="452.44" x2="26.4" y2="452.44" stroke="#b2b2b2" stroke-width="0.7"/>
<text x="24.2" y="455.64" font-size="8.2" fill="#4d4d4d" text-anchor="end" >0</text>
<line x1="24.8" y1="395.12" x2="26.4" y2="395.12" stroke="#b2b2b2" stroke-width="0.7"/>
<text x="24.2" y="398.32" font-size="8.2" fill="#4d4d4d" text-anchor="end" >10</text>
<line x1="24.8" y1="337.8" x2="26.4" y2="337.8" stroke="#b2b2b2" stroke-width="0.7"/>
<text x="24.2" y="341" font-size="8.2" fill="#4d4d4d" text-anchor="end" >20</text>
<line x1="24.8" y1="280.48" x2="26.4" y2="280.48" stroke="#b2b2b2" stroke-width="0.7"/>
<text x="24.2" y="283.68" font-size="8.2" fill="#4d4d4d" text-anchor="end" >30</text>
<line x1="40.4" y1="462.45" x2="40.4" y2="464.05" stroke="#b2b2b2" stroke-width="0.7"/>
<text x="40.4" y="470.5" font-size="8.2" fill="#4d4d4d" text-anchor="middle" >0</text>
<line x1="133.61" y1="462.45" x2="133.61" y2="464.05" stroke="#b2b2b2" stroke-width="0.7"/>
<text x="133.61" y="470.5" font-size="8.2" fill="#4d4d4d" text-anchor="middle" >100</text>
<line x1="226.82" y1="462.45" x2="226.82" y2="464.05" stroke="#b2b2b2" stroke-width="0.7"/>
<text x="226.82" y="470.5" font-size="8.2" fill="#4d4d4d" text-anchor="middle" >200</text>
<line x1="320.03" y1="462.45" x2="320.03" y2="464.05" stroke="#b2b2b2" stroke-width="0.7"/>
<text x="320.03" y="470.5" font-size="8.2" fill="#4d4d4d" text-anchor="middle" >300</text>
<text x="183" y="478.8" font-size="9.0" fill="#000" text-anchor="middle" >Time after ticlopidine dose (hours)</text>
<text x="0" y="0" font-size="9.0" fill="#000" text-anchor="middle" transform="translate(8.6,352.9) rotate(-90)">Population predicted C<tspan font-size="6.8" dy="1.6">p</tspan><tspan dy="-1.6"> (ng/mL)</tspan></text>
<polyline points="152.25,452.44 163.48,452.44 164.28,356.72 164.46,364.06 164.65,370.89 164.84,377.11 165.03,382.64 165.22,387.66 165.4,392.36 165.59,396.94 165.78,401.57 165.97,406.1 166.16,410.32 166.34,413.99 166.53,417.24 166.72,420.18 166.91,422.66 167.1,424.63 167.28,426.36 167.47,427.92 167.66,429.33 167.85,430.64 168.04,431.88 168.22,433.09 168.41,434.3 168.6,435.49 168.79,436.65 168.98,437.76 169.16,438.82 169.35,439.84 169.54,440.81 169.73,441.72 171.73,293.66 171.92,305.75 172.11,316.99 172.3,327.21 172.48,336.32 172.67,344.58 172.86,352.31 173.05,359.85 173.24,367.46 173.43,374.92 173.61,381.86 173.8,387.89 173.99,393.25 174.18,398.08 174.37,402.16 174.55,405.41 174.74,408.26 174.93,410.82 175.12,413.14 175.31,415.29 175.49,417.33 175.68,419.32 175.87,421.31 176.06,423.28 176.25,425.17 176.43,427 176.62,428.76 176.81,430.43 177,432.02 177.19,433.52 179.19,293.66 179.38,305.5 179.57,316.51 179.75,326.53 179.94,335.44 180.13,343.53 180.32,351.11 180.51,358.49 180.69,365.95 180.88,373.26 181.07,380.05 181.26,385.96 181.45,391.21 181.63,395.94 181.82,399.94 182.01,403.12 182.2,405.91 182.39,408.42 182.57,410.69 182.76,412.8 182.95,414.8 183.14,416.75 183.33,418.7 183.51,420.62 183.7,422.48 183.89,424.27 184.08,425.99 184.27,427.63 184.45,429.19 184.64,430.66 186.65,299.97 186.83,311.31 187.02,321.86 187.21,331.46 187.4,340 187.59,347.75 187.77,355.01 187.96,362.09 188.15,369.23 188.34,376.23 188.53,382.74 188.71,388.41 188.9,393.43 189.09,397.96 189.28,401.8 189.47,404.84 189.65,407.52 189.84,409.92 190.03,412.1 190.22,414.12 190.41,416.04 190.6,417.9 190.78,419.77 190.97,421.61 191.16,423.4 191.35,425.11 191.54,426.76 191.72,428.33 191.91,429.82 192.1,431.23 194.1,309.71 194.29,320.29 194.48,330.13 194.67,339.07 194.86,347.04 195.04,354.26 195.23,361.03 195.42,367.63 195.61,374.28 195.8,380.81 195.98,386.88 196.17,392.16 196.36,396.85 196.55,401.08 196.74,404.65 196.92,407.49 197.11,409.98 197.3,412.22 197.49,414.26 197.68,416.14 197.86,417.93 198.05,419.66 198.24,421.41 198.43,423.12 198.62,424.79 198.8,426.39 198.99,427.92 199.18,429.39 199.37,430.78 199.56,432.09 201.56,321.75 201.75,331.48 201.94,340.53 202.12,348.76 202.31,356.08 202.5,362.73 202.69,368.96 202.88,375.02 203.06,381.15 203.25,387.16 203.44,392.74 203.63,397.6 203.82,401.91 204,405.8 204.19,409.08 204.38,411.7 204.57,413.99 204.76,416.05 204.94,417.92 205.13,419.65 205.32,421.3 205.51,422.89 205.7,424.5 205.88,426.08 206.07,427.61 206.26,429.08 206.45,430.49 206.64,431.84 206.82,433.12 207.01,434.33 209.02,334.36 209.2,343.19 209.39,351.4 209.58,358.86 209.77,365.51 209.96,371.54 210.15,377.19 210.33,382.7 210.52,388.26 210.71,393.71 210.9,398.77 211.09,403.18 211.27,407.09 211.46,410.62 211.65,413.6 211.84,415.97 212.03,418.05 212.21,419.92 212.4,421.62 212.59,423.19 212.78,424.68 212.97,426.13 213.15,427.59 213.34,429.02 213.53,430.41 213.72,431.74 213.91,433.02 214.09,434.25 214.28,435.41 214.47,436.51 216.47,344.96 216.66,353.03 216.85,360.53 217.04,367.35 217.23,373.42 217.41,378.93 217.6,384.1 217.79,389.13 217.98,394.2 218.17,399.18 218.35,403.81 218.54,407.84 218.73,411.41 218.92,414.63 219.11,417.36 219.29,419.52 219.48,421.42 219.67,423.13 219.86,424.68 220.05,426.12 220.23,427.48 220.42,428.81 220.61,430.13 220.8,431.44 220.99,432.71 221.17,433.93 221.36,435.1 221.55,436.22 221.74,437.28 221.93,438.28 223.93,354.42 224.12,361.8 224.31,368.67 224.49,374.91 224.68,380.47 224.87,385.51 225.06,390.24 225.25,394.84 225.43,399.49 225.62,404.04 225.81,408.28 226,411.96 226.19,415.23 226.37,418.18 226.56,420.68 226.75,422.66 226.94,424.4 227.13,425.96 227.31,427.38 227.5,428.7 227.69,429.94 227.88,431.16 228.07,432.37 228.26,433.57 228.44,434.73 228.63,435.85 228.82,436.92 229.01,437.94 229.2,438.91 229.38,439.83 231.39,361.87 231.58,368.71 231.76,375.07 231.95,380.85 232.14,386 232.33,390.67 232.52,395.04 232.7,399.31 232.89,403.61 233.08,407.83 233.27,411.76 233.46,415.17 233.64,418.2 233.83,420.93 234.02,423.24 234.21,425.07 234.4,426.69 234.58,428.13 234.77,429.45 234.96,430.67 235.15,431.82 235.34,432.94 235.52,434.07 235.71,435.18 235.9,436.25 236.09,437.29 236.28,438.28 236.46,439.23 236.65,440.13 236.84,440.98 238.84,367.03 239.03,373.5 239.22,379.52 239.41,384.99 239.6,389.86 239.78,394.28 239.97,398.42 240.16,402.46 240.35,406.53 240.54,410.53 240.72,414.24 240.91,417.47 241.1,420.34 241.29,422.92 241.48,425.11 241.66,426.84 241.85,428.37 242.04,429.74 242.23,430.98 242.42,432.14 242.6,433.23 242.79,434.29 242.98,435.36 243.17,436.41 243.36,437.42 243.54,438.4 243.73,439.34 243.92,440.24 244.11,441.09 244.3,441.89 246.3,369.9 246.49,376.17 246.68,381.99 246.86,387.29 247.05,392.01 247.24,396.29 247.43,400.3 247.62,404.21 247.81,408.16 247.99,412.03 248.18,415.62 248.37,418.75 248.56,421.53 248.75,424.03 248.93,426.15 249.12,427.83 249.31,429.31 249.5,430.64 249.69,431.84 249.87,432.96 250.06,434.02 250.25,435.05 250.44,436.08 250.63,437.1 250.81,438.08 251,439.03 251.19,439.94 251.38,440.81 251.57,441.63 251.75,442.41 253.76,372.19 253.95,378.3 254.13,383.97 254.32,389.13 254.51,393.73 254.7,397.9 254.89,401.8 255.07,405.61 255.26,409.45 255.45,413.22 255.64,416.72 255.83,419.77 256.01,422.47 256.2,424.91 256.39,426.97 256.58,428.61 256.77,430.05 256.95,431.34 257.14,432.52 257.33,433.61 257.52,434.64 257.71,435.64 257.89,436.64 258.08,437.64 258.27,438.59 258.46,439.52 258.65,440.4 258.83,441.25 259.02,442.05 259.21,442.81 261.21,373.91 261.4,379.89 261.59,385.45 261.78,390.51 261.97,395.01 262.15,399.1 262.34,402.92 262.53,406.65 262.72,410.42 262.91,414.11 263.09,417.54 263.28,420.52 263.47,423.17 263.66,425.56 263.85,427.58 264.03,429.19 264.22,430.6 264.41,431.86 264.6,433.01 264.79,434.08 264.98,435.09 265.16,436.07 265.35,437.06 265.54,438.03 265.73,438.97 265.92,439.87 266.1,440.74 266.29,441.57 266.48,442.35 266.67,443.1 268.67,375.06 268.86,380.95 269.05,386.44 269.24,391.42 269.42,395.86 269.61,399.89 269.8,403.66 269.99,407.34 270.18,411.05 270.36,414.69 270.55,418.07 270.74,421.01 270.93,423.63 271.12,425.98 271.3,427.97 271.49,429.56 271.68,430.95 271.87,432.19 272.06,433.33 272.24,434.38 272.43,435.37 272.62,436.34 272.81,437.31 273,438.27 273.18,439.2 273.37,440.09 273.56,440.94 273.75,441.76 273.94,442.54 274.12,443.27 276.13,375.63 276.32,381.49 276.5,386.93 276.69,391.88 276.88,396.29 277.07,400.29 277.26,404.04 277.44,407.69 277.63,411.38 277.82,415 278.01,418.36 278.2,421.28 278.38,423.87 278.57,426.21 278.76,428.19 278.95,429.76 279.14,431.14 279.32,432.38 279.51,433.51 279.7,434.55 279.89,435.54 280.08,436.5 280.26,437.47 280.45,438.42 280.64,439.34 280.83,440.22 281.02,441.07 281.2,441.89 281.39,442.66 281.58,443.38 283.58,376.2 283.77,382.01 283.96,387.41 284.15,392.32 284.34,396.69 284.53,400.66 284.71,404.37 284.9,408 285.09,411.65 285.28,415.24 285.47,418.57 285.65,421.47 285.84,424.04 286.03,426.36 286.22,428.32 286.41,429.88 286.59,431.25 286.78,432.48 286.97,433.59 287.16,434.63 287.35,435.61 287.53,436.56 287.72,437.52 287.91,438.46 288.1,439.37 288.29,440.25 288.47,441.09 288.66,441.9 288.85,442.66 289.04,443.38 291.04,376.2 291.23,382.01 291.42,387.41 291.61,392.32 291.79,396.69 291.98,400.66 292.17,404.37 292.36,408 292.55,411.65 292.73,415.24 292.92,418.57 293.11,421.47 293.3,424.04 293.49,426.36 293.67,428.32 293.86,429.88 294.05,431.25 294.24,432.48 294.43,433.59 294.61,434.63 294.8,435.61 294.99,436.56 295.18,437.52 295.37,438.46 295.55,439.37 295.74,440.25 295.93,441.09 296.12,441.9 296.31,442.66 296.49,443.38 298.5,376.2 298.69,382.01 298.87,387.41 299.06,392.32 299.25,396.69 299.44,400.66 299.63,404.37 299.81,408 300,411.65 300.19,415.24 300.38,418.57 300.57,421.47 300.75,424.04 300.94,426.36 301.13,428.32 301.32,429.88 301.51,431.25 301.69,432.48 301.88,433.59 302.07,434.63 302.26,435.61 302.45,436.56 302.64,437.52 302.82,438.46 303.01,439.37 303.2,440.25 303.39,441.09 303.58,441.9 303.76,442.66 303.95,443.38 305.96,376.38 306.14,382.17 306.33,387.55 306.52,392.45 306.71,396.81 306.9,400.77 307.08,404.47 307.27,408.09 307.46,411.73 307.65,415.31 307.84,418.63 308.02,421.52 308.21,424.09 308.4,426.4 308.59,428.36 308.78,429.91 308.96,431.28 309.15,432.5 309.34,433.62 309.53,434.65 309.72,435.63 309.9,436.58 310.09,437.53 310.28,438.47 310.47,439.38 310.66,440.26 310.84,441.1 311.03,441.9 311.22,442.66 311.41,443.38 313.41,376.38 313.7,385.13 313.99,392.78 314.28,399.21 314.57,404.88 314.86,410.29 315.15,415.56 315.44,420.09 315.73,423.71 316.01,426.69 316.3,429.03 316.59,431.06 316.88,432.86 317.17,434.45 317.46,435.85 317.75,437.11 318.04,438.27 318.33,439.31 318.62,440.21 318.91,440.95 319.2,441.58 319.49,442.14 319.77,442.65 320.06,443.11 320.35,443.54 320.64,443.95 320.93,444.35 321.22,444.74 321.51,445.12 321.8,445.5 322.09,445.86 322.38,446.22 322.67,446.56 322.96,446.88 323.24,447.2 323.53,447.49 323.82,447.77 324.11,448.03 324.4,448.27 324.69,448.48" fill="none" stroke="#104E8B" stroke-width="0.9" stroke-linejoin="miter" />
<polyline points="40.4,452.44 51.49,452.44 53.45,408.07 53.74,413.81 54.03,418.77 54.32,422.87 54.61,426.01 54.9,428.76 55.19,431.68 55.47,434.57 55.76,437.69 56.05,440.3 56.34,441.65 56.63,442.63 56.92,443.35 57.21,443.91 57.5,444.39 57.79,444.81 58.08,445.17 58.37,445.48 58.66,445.76 58.95,446 59.23,446.23 59.52,446.44 59.81,446.63 60.1,446.79 60.39,446.92 60.68,447.02 60.97,447.11 61.26,447.19 61.55,447.25 61.84,447.28 64.63,404 64.92,410 65.21,415.19 65.5,419.47 65.79,422.75 66.08,425.63 66.37,428.68 66.66,431.7 66.95,434.97 67.24,437.7 67.53,439.1 67.82,440.13 68.11,440.88 68.4,441.46 68.68,441.97 68.97,442.4 69.26,442.78 69.55,443.11 69.84,443.39 70.13,443.65 70.42,443.89 70.71,444.11 71,444.3 71.29,444.47 71.58,444.61 71.87,444.71 72.16,444.81 72.44,444.89 72.73,444.95 73.02,444.99 75.82,402.06 76.11,408.17 76.4,413.46 76.69,417.82 76.98,421.17 77.27,424.1 77.56,427.22 77.84,430.3 78.13,433.62 78.42,436.41 78.71,437.84 79,438.89 79.29,439.65 79.58,440.25 79.87,440.76 80.16,441.21 80.45,441.59 80.74,441.92 81.03,442.22 81.32,442.48 81.61,442.72 81.89,442.95 82.18,443.14 82.47,443.31 82.76,443.45 83.05,443.56 83.34,443.66 83.63,443.74 83.92,443.8 84.21,443.84 87,401.14 87.29,407.31 87.58,412.63 87.87,417.04 88.16,420.41 88.45,423.37 88.74,426.51 89.03,429.61 89.32,432.97 89.61,435.77 89.9,437.22 90.19,438.28 90.48,439.04 90.77,439.65 91.05,440.16 91.34,440.61 91.63,441 91.92,441.34 92.21,441.63 92.5,441.89 92.79,442.14 93.08,442.37 93.37,442.56 93.66,442.74 93.95,442.88 94.24,442.99 94.53,443.08 94.82,443.17 95.1,443.23 95.39,443.27 98.19,400.57 98.48,406.77 98.77,412.14 99.06,416.57 99.35,419.97 99.64,422.95 99.93,426.11 100.22,429.23 100.5,432.61 100.79,435.43 101.08,436.89 101.37,437.95 101.66,438.73 101.95,439.33 102.24,439.86 102.53,440.31 102.82,440.7 103.11,441.04 103.4,441.33 103.69,441.6 103.98,441.85 104.26,442.07 104.55,442.27 104.84,442.45 105.13,442.59 105.42,442.7 105.71,442.8 106,442.88 106.29,442.94 106.58,442.98 109.38,400.28 109.66,406.49 109.95,411.85 110.24,416.28 110.53,419.68 110.82,422.66 111.11,425.82 111.4,428.95 111.69,432.32 111.98,435.15 112.27,436.61 112.56,437.67 112.85,438.44 113.14,439.05 113.43,439.57 113.71,440.02 114,440.41 114.29,440.75 114.58,441.04 114.87,441.31 115.16,441.56 115.45,441.79 115.74,441.99 116.03,442.16 116.32,442.3 116.61,442.41 116.9,442.51 117.19,442.59 117.48,442.66 117.76,442.7 120.56,400.28 120.85,406.49 121.14,411.85 121.43,416.28 121.72,419.68 122.01,422.66 122.3,425.82 122.59,428.95 122.87,432.32 123.16,435.15 123.45,436.61 123.74,437.67 124.03,438.44 124.32,439.05 124.61,439.57 124.9,440.02 125.19,440.41 125.48,440.75 125.77,441.04 126.06,441.31 126.35,441.56 126.64,441.79 126.92,441.99 127.21,442.16 127.5,442.3 127.79,442.41 128.08,442.51 128.37,442.59 128.66,442.66 128.95,442.7 131.75,400.16 132.04,406.39 132.32,411.77 132.61,416.21 132.9,419.62 133.19,422.61 133.48,425.77 133.77,428.91 134.06,432.29 134.35,435.13 134.64,436.59 134.93,437.65 135.22,438.43 135.51,439.04 135.8,439.56 136.08,440.01 136.37,440.41 136.66,440.74 136.95,441.04 137.24,441.31 137.53,441.56 137.82,441.78 138.11,441.98 138.4,442.16 138.69,442.3 138.98,442.41 139.27,442.51 139.56,442.59 139.85,442.66 140.13,442.7 142.93,400.16 143.22,406.39 143.51,411.77 143.8,416.21 144.09,419.62 144.38,422.61 144.67,425.77 144.96,428.91 145.25,432.29 145.53,435.13 145.82,436.59 146.11,437.65 146.4,438.43 146.69,439.04 146.98,439.56 147.27,440.01 147.56,440.41 147.85,440.74 148.14,441.04 148.43,441.31 148.72,441.56 149.01,441.78 149.29,441.98 149.58,442.16 149.87,442.3 150.16,442.41 150.45,442.51 150.74,442.59 151.03,442.66 151.32,442.7 154.12,400.16 154.41,406.39 154.69,411.77 154.98,416.21 155.27,419.62 155.56,422.61 155.85,425.77 156.14,428.91 156.43,432.29 156.72,435.13 157.01,436.59 157.3,437.65 157.59,438.43 157.88,439.04 158.17,439.56 158.46,440.01 158.74,440.41 159.03,440.74 159.32,441.04 159.61,441.31 159.9,441.56 160.19,441.78 160.48,441.98 160.77,442.16 161.06,442.3 161.35,442.41 161.64,442.51 161.93,442.59 162.22,442.66 162.51,442.7 165.3,400.16 167.09,426.89 168.88,438.68 170.67,440.51 172.46,441.88 174.26,443.19 176.05,444.31 177.84,445.23 179.63,446 181.42,446.67 183.21,447.26 185,447.78 186.79,448.24 188.58,448.66 190.37,449.06 192.16,449.43 193.96,449.76 195.75,450.04 197.54,450.27 199.33,450.48 201.12,450.66 202.91,450.84 204.7,451 206.49,451.15 208.28,451.29 210.07,451.41 211.86,451.52 213.66,451.62 215.45,451.71 217.24,451.8 219.03,451.88 220.82,451.95 222.61,452.01 224.4,452.06 226.19,452.1 227.98,452.14 229.77,452.17 231.56,452.2 233.36,452.23 235.15,452.26 236.94,452.28 238.73,452.31 240.52,452.33 242.31,452.35 244.1,452.36 245.89,452.37 247.68,452.38 249.47,452.38 251.26,452.39 253.05,452.39 254.85,452.39 256.64,452.39 258.43,452.4 260.22,452.4 262.01,452.4 263.8,452.4 265.59,452.41 267.38,452.41 269.17,452.41 270.96,452.41 272.75,452.41 274.55,452.42 276.34,452.42 278.13,452.42 279.92,452.42 281.71,452.42 283.5,452.42 285.29,452.43 287.08,452.43 288.87,452.43 290.66,452.43 292.45,452.43 294.25,452.43 296.04,452.43 297.83,452.43 299.62,452.43 301.41,452.44 303.2,452.44 304.99,452.44 306.78,452.44 308.57,452.44 310.36,452.44 312.15,452.44 313.95,452.44 315.74,452.44 317.53,452.44 319.32,452.44 321.11,452.44 322.9,452.44 324.69,452.44" fill="none" stroke="#E38E00" stroke-width="0.9" stroke-linejoin="miter" />
<text x="45.5" y="280.3" font-size="19.6" fill="#000" text-anchor="middle" font-family="DejaVu Sans, sans-serif">C</text>
<line x1="368.4" y1="242" x2="368.4" y2="462.75" stroke="#b2b2b2" stroke-width="0.7"/>
<line x1="368.1" y1="462.45" x2="680.7" y2="462.45" stroke="#b2b2b2" stroke-width="0.7"/>
<line x1="366.8" y1="452.44" x2="368.4" y2="452.44" stroke="#b2b2b2" stroke-width="0.7"/>
<text x="366.2" y="455.34" font-size="8.2" fill="#4d4d4d" text-anchor="end" >0</text>
<line x1="366.8" y1="402.39" x2="368.4" y2="402.39" stroke="#b2b2b2" stroke-width="0.7"/>
<text x="366.2" y="405.29" font-size="8.2" fill="#4d4d4d" text-anchor="end" >5</text>
<line x1="366.8" y1="352.35" x2="368.4" y2="352.35" stroke="#b2b2b2" stroke-width="0.7"/>
<text x="366.2" y="355.25" font-size="8.2" fill="#4d4d4d" text-anchor="end" >10</text>
<line x1="366.8" y1="302.31" x2="368.4" y2="302.31" stroke="#b2b2b2" stroke-width="0.7"/>
<text x="366.2" y="305.2" font-size="8.2" fill="#4d4d4d" text-anchor="end" >15</text>
<line x1="366.8" y1="252.26" x2="368.4" y2="252.26" stroke="#b2b2b2" stroke-width="0.7"/>
<text x="366.2" y="255.16" font-size="8.2" fill="#4d4d4d" text-anchor="end" >20</text>
<line x1="382.34" y1="462.45" x2="382.34" y2="464.05" stroke="#b2b2b2" stroke-width="0.7"/>
<text x="382.34" y="470.5" font-size="8.2" fill="#4d4d4d" text-anchor="middle" >0</text>
<line x1="475.67" y1="462.45" x2="475.67" y2="464.05" stroke="#b2b2b2" stroke-width="0.7"/>
<text x="475.67" y="470.5" font-size="8.2" fill="#4d4d4d" text-anchor="middle" >100</text>
<line x1="569" y1="462.45" x2="569" y2="464.05" stroke="#b2b2b2" stroke-width="0.7"/>
<text x="569" y="470.5" font-size="8.2" fill="#4d4d4d" text-anchor="middle" >200</text>
<line x1="662.33" y1="462.45" x2="662.33" y2="464.05" stroke="#b2b2b2" stroke-width="0.7"/>
<text x="662.33" y="470.5" font-size="8.2" fill="#4d4d4d" text-anchor="middle" >300</text>
<text x="524.7" y="478.8" font-size="9.0" fill="#000" text-anchor="middle" >Time after ticlopidine dose (hours)</text>
<text x="0" y="0" font-size="9.0" fill="#000" text-anchor="middle" transform="translate(351.0,352.9) rotate(-90)">Population predicted C<tspan font-size="6.8" dy="1.6">p</tspan><tspan dy="-1.6"> (ng/mL)</tspan></text>
<polyline points="498.16,452.44 505.58,452.44 506.38,285.29 506.56,298.62 506.75,311.48 506.93,323.87 507.12,335.86 507.3,347.24 507.49,357.66 507.67,367.57 507.86,377.97 508.04,390.18 508.23,400.58 508.41,406.94 508.6,410.51 508.78,412.78 508.97,414.53 509.15,415.98 509.34,417.36 509.52,418.87 509.71,420.39 509.89,421.85 510.08,423.25 510.26,424.6 510.45,425.91 510.63,427.17 510.82,428.39 511,429.58 511.19,430.73 511.37,431.84 511.56,432.9 511.74,433.92 513.84,273.28 514.03,287.07 514.21,300.37 514.4,313.18 514.58,325.59 514.77,337.36 514.95,348.14 515.14,358.39 515.32,369.14 515.51,381.77 515.69,392.53 515.88,399.11 516.06,402.8 516.25,405.15 516.43,406.96 516.62,408.46 516.8,409.89 516.99,411.45 517.17,413.02 517.36,414.53 517.54,415.98 517.73,417.38 517.91,418.73 518.1,420.03 518.28,421.3 518.47,422.53 518.65,423.72 518.84,424.86 519.02,425.96 519.21,427.02 521.31,269.28 521.49,283.2 521.68,296.63 521.86,309.57 522.05,322.1 522.23,333.98 522.42,344.87 522.6,355.21 522.79,366.07 522.97,378.83 523.16,389.69 523.34,396.33 523.53,400.06 523.71,402.43 523.9,404.26 524.08,405.77 524.27,407.22 524.45,408.79 524.64,410.38 524.82,411.9 525.01,413.37 525.19,414.78 525.38,416.14 525.56,417.46 525.75,418.74 525.93,419.98 526.12,421.18 526.3,422.34 526.49,423.45 526.67,424.51 528.77,269.28 528.96,283.16 529.14,296.56 529.33,309.46 529.51,321.96 529.7,333.81 529.89,344.67 530.07,354.99 530.26,365.82 530.44,378.54 530.63,389.38 530.81,396.01 531,399.72 531.18,402.09 531.37,403.91 531.55,405.42 531.74,406.86 531.92,408.43 532.11,410.01 532.29,411.53 532.48,413 532.66,414.4 532.85,415.76 533.03,417.08 533.22,418.35 533.4,419.59 533.59,420.79 533.77,421.94 533.96,423.05 534.14,424.11 536.24,272.28 536.43,285.96 536.61,299.15 536.8,311.87 536.98,324.18 537.17,335.85 537.35,346.55 537.54,356.72 537.72,367.39 537.91,379.92 538.09,390.59 538.28,397.13 538.46,400.78 538.65,403.12 538.83,404.91 539.02,406.4 539.2,407.82 539.39,409.37 539.57,410.92 539.76,412.42 539.94,413.86 540.13,415.25 540.31,416.59 540.5,417.88 540.68,419.14 540.87,420.36 541.05,421.54 541.24,422.68 541.42,423.77 541.61,424.82 543.71,275.28 543.89,288.83 544.08,301.89 544.26,314.48 544.45,326.67 544.63,338.23 544.82,348.82 545,358.89 545.19,369.46 545.37,381.87 545.56,392.43 545.74,398.9 545.93,402.52 546.11,404.83 546.3,406.61 546.48,408.08 546.67,409.49 546.85,411.02 547.04,412.56 547.22,414.04 547.41,415.47 547.59,416.84 547.78,418.17 547.96,419.45 548.15,420.7 548.33,421.9 548.52,423.07 548.7,424.2 548.89,425.28 549.07,426.32 551.17,279.28 551.36,292.56 551.54,305.37 551.73,317.7 551.91,329.65 552.1,340.98 552.28,351.37 552.47,361.23 552.65,371.59 552.84,383.75 553.02,394.11 553.21,400.45 553.39,403.99 553.58,406.26 553.76,408 553.95,409.45 554.13,410.82 554.32,412.33 554.5,413.84 554.69,415.29 554.87,416.69 555.06,418.03 555.25,419.33 555.43,420.59 555.62,421.81 555.8,422.99 555.99,424.14 556.17,425.24 556.36,426.3 556.54,427.32 558.64,283.29 558.83,296.29 559.01,308.82 559.2,320.9 559.38,332.6 559.57,343.69 559.75,353.86 559.94,363.52 560.12,373.66 560.31,385.56 560.49,395.7 560.68,401.91 560.86,405.38 561.05,407.6 561.23,409.31 561.42,410.72 561.6,412.07 561.79,413.54 561.97,415.02 562.16,416.44 562.34,417.81 562.53,419.13 562.71,420.4 562.9,421.63 563.08,422.83 563.27,423.98 563.45,425.11 563.64,426.19 563.82,427.22 564.01,428.22 566.11,286.29 566.29,299.11 566.48,311.47 566.66,323.39 566.85,334.92 567.03,345.86 567.22,355.89 567.4,365.41 567.59,375.41 567.77,387.15 567.96,397.15 568.14,403.27 568.33,406.7 568.51,408.89 568.7,410.57 568.88,411.96 569.07,413.29 569.25,414.75 569.44,416.2 569.62,417.61 569.81,418.96 569.99,420.26 570.18,421.51 570.36,422.72 570.55,423.9 570.73,425.04 570.92,426.15 571.1,427.22 571.29,428.24 571.47,429.22 573.57,289.29 573.76,301.9 573.94,314.07 574.13,325.79 574.31,337.14 574.5,347.91 574.68,357.77 574.87,367.14 575.05,376.98 575.24,388.53 575.42,398.37 575.61,404.39 575.79,407.76 575.98,409.92 576.16,411.57 576.35,412.94 576.53,414.25 576.72,415.68 576.9,417.11 577.09,418.49 577.27,419.82 577.46,421.1 577.64,422.34 577.83,423.53 578.01,424.69 578.2,425.81 578.38,426.9 578.57,427.95 578.75,428.96 578.94,429.92 581.04,290.29 581.22,302.89 581.41,315.04 581.59,326.74 581.78,338.07 581.96,348.82 582.15,358.67 582.33,368.03 582.52,377.86 582.71,389.39 582.89,399.22 583.08,405.23 583.26,408.6 583.45,410.74 583.63,412.4 583.82,413.77 584,415.07 584.19,416.5 584.37,417.93 584.56,419.31 584.74,420.64 584.93,421.91 585.11,423.15 585.3,424.34 585.48,425.5 585.67,426.62 585.85,427.7 586.04,428.75 586.22,429.76 586.41,430.72 588.51,292.3 588.69,304.77 588.88,316.81 589.06,328.4 589.25,339.63 589.43,350.28 589.62,360.04 589.8,369.31 589.99,379.05 590.17,390.48 590.36,400.21 590.54,406.17 590.73,409.5 590.91,411.63 591.1,413.27 591.28,414.63 591.47,415.92 591.65,417.33 591.84,418.75 592.02,420.12 592.21,421.43 592.39,422.7 592.58,423.92 592.76,425.1 592.95,426.24 593.13,427.36 593.32,428.43 593.5,429.47 593.69,430.47 593.87,431.42 595.97,292.6 596.16,305.06 596.34,317.09 596.53,328.68 596.71,339.9 596.9,350.54 597.08,360.29 597.27,369.56 597.45,379.28 597.64,390.7 597.82,400.43 598.01,406.38 598.19,409.72 598.38,411.84 598.56,413.48 598.75,414.84 598.93,416.13 599.12,417.54 599.3,418.96 599.49,420.32 599.67,421.64 599.86,422.9 600.04,424.12 600.23,425.3 600.41,426.45 600.6,427.56 600.78,428.64 600.97,429.67 601.15,430.67 601.34,431.62 603.44,293 603.62,305.45 603.81,317.46 603.99,329.03 604.18,340.23 604.36,350.86 604.55,360.59 604.73,369.85 604.92,379.56 605.1,390.96 605.29,400.68 605.47,406.62 605.66,409.95 605.84,412.07 606.03,413.71 606.21,415.06 606.4,416.35 606.58,417.76 606.77,419.18 606.95,420.54 607.14,421.85 607.32,423.12 607.51,424.33 607.69,425.51 607.88,426.66 608.07,427.77 608.25,428.84 608.44,429.88 608.62,430.87 608.81,431.82 610.91,293.3 611.09,305.72 611.28,317.7 611.46,329.25 611.65,340.43 611.83,351.03 612.02,360.75 612.2,369.98 612.39,379.67 612.57,391.05 612.76,400.74 612.94,406.68 613.13,410 613.31,412.12 613.5,413.75 613.68,415.1 613.87,416.38 614.05,417.79 614.24,419.21 614.42,420.57 614.61,421.87 614.79,423.13 614.98,424.35 615.16,425.53 615.35,426.67 615.53,427.78 615.72,428.85 615.9,429.88 616.09,430.87 616.27,431.82 618.37,293.6 618.56,305.99 618.74,317.95 618.93,329.47 619.11,340.63 619.3,351.21 619.48,360.9 619.67,370.12 619.85,379.79 620.04,391.14 620.22,400.81 620.41,406.73 620.59,410.04 620.78,412.16 620.96,413.79 621.15,415.13 621.33,416.42 621.52,417.82 621.7,419.23 621.89,420.59 622.07,421.9 622.26,423.15 622.44,424.37 622.63,425.54 622.81,426.68 623,427.78 623.18,428.85 623.37,429.88 623.55,430.87 623.74,431.82 625.84,293.7 626.02,306.08 626.21,318.03 626.39,329.55 626.58,340.69 626.76,351.27 626.95,360.95 627.13,370.16 627.32,379.82 627.5,391.17 627.69,400.83 627.87,406.75 628.06,410.06 628.24,412.17 628.43,413.8 628.61,415.15 628.8,416.43 628.98,417.83 629.17,419.24 629.35,420.6 629.54,421.9 629.72,423.16 629.91,424.37 630.09,425.54 630.28,426.68 630.46,427.79 630.65,428.86 630.83,429.89 631.02,430.87 631.2,431.82 633.3,293.9 633.49,306.27 633.67,318.2 633.86,329.69 634.04,340.83 634.23,351.38 634.41,361.06 634.6,370.25 634.78,379.9 634.97,391.23 635.15,400.88 635.34,406.78 635.52,410.09 635.71,412.2 635.9,413.82 636.08,415.17 636.27,416.45 636.45,417.85 636.64,419.26 636.82,420.61 637.01,421.92 637.19,423.17 637.38,424.38 637.56,425.55 637.75,426.69 637.93,427.79 638.12,428.86 638.3,429.89 638.49,430.88 638.67,431.82 640.77,293.9 640.96,306.27 641.14,318.2 641.33,329.69 641.51,340.83 641.7,351.38 641.88,361.06 642.07,370.25 642.25,379.9 642.44,391.23 642.62,400.88 642.81,406.78 642.99,410.09 643.18,412.2 643.36,413.82 643.55,415.17 643.73,416.45 643.92,417.85 644.1,419.26 644.29,420.61 644.47,421.92 644.66,423.17 644.84,424.38 645.03,425.55 645.21,426.69 645.4,427.79 645.58,428.86 645.77,429.89 645.95,430.88 646.14,431.82 648.24,293.9 648.42,306.27 648.61,318.2 648.79,329.69 648.98,340.83 649.16,351.38 649.35,361.06 649.53,370.25 649.72,379.9 649.9,391.23 650.09,400.88 650.27,406.78 650.46,410.09 650.64,412.2 650.83,413.82 651.01,415.17 651.2,416.45 651.38,417.85 651.57,419.26 651.75,420.61 651.94,421.92 652.12,423.17 652.31,424.38 652.49,425.55 652.68,426.69 652.86,427.79 653.05,428.86 653.23,429.89 653.42,430.88 653.6,431.82 655.7,293.9 655.99,312.02 656.28,327.86 656.57,341.18 656.86,352.92 657.15,364.13 657.44,375.03 657.73,384.43 658.02,391.92 658.31,398.1 658.6,402.93 658.89,407.14 659.18,410.87 659.47,414.15 659.76,417.06 660.05,419.67 660.34,422.07 660.63,424.22 660.92,426.08 661.21,427.61 661.49,428.93 661.78,430.12 662.07,431.2 662.36,432.18 662.65,433.07 662.94,433.88 663.23,434.63 663.52,435.36 663.81,436.08 664.1,436.77 664.39,437.44 664.68,438.08 664.97,438.69 665.26,439.27 665.55,439.8 665.84,440.29 666.13,440.74 666.42,441.13 666.71,441.46 667,441.73" fill="none" stroke="#104E8B" stroke-width="0.9" stroke-linejoin="miter" />
<polyline points="382.34,452.44 393.45,452.44 395.41,374.97 395.7,384.99 395.99,393.65 396.28,400.8 396.56,406.28 396.85,411.09 397.14,416.19 397.43,421.24 397.72,426.69 398.01,431.25 398.3,433.6 398.59,435.32 398.88,436.57 399.17,437.54 399.46,438.39 399.75,439.12 400.04,439.75 400.33,440.29 400.62,440.77 400.91,441.2 401.2,441.6 401.49,441.96 401.78,442.29 402.07,442.57 402.36,442.79 402.65,442.97 402.94,443.13 403.23,443.27 403.52,443.37 403.81,443.43 406.61,367.86 406.9,378.34 407.19,387.39 407.47,394.87 407.76,400.6 408.05,405.62 408.34,410.96 408.63,416.23 408.92,421.93 409.21,426.69 409.5,429.15 409.79,430.95 410.08,432.25 410.37,433.27 410.66,434.16 410.95,434.92 411.24,435.57 411.53,436.14 411.82,436.64 412.11,437.09 412.4,437.51 412.69,437.89 412.98,438.23 413.27,438.52 413.56,438.76 413.85,438.95 414.14,439.11 414.43,439.26 414.72,439.36 415.01,439.43 417.81,364.46 418.1,375.14 418.38,384.37 418.67,391.99 418.96,397.84 419.25,402.96 419.54,408.4 419.83,413.78 420.12,419.58 420.41,424.44 420.7,426.95 420.99,428.78 421.28,430.11 421.57,431.15 421.86,432.05 422.15,432.83 422.44,433.5 422.73,434.08 423.02,434.59 423.31,435.05 423.6,435.47 423.89,435.86 424.18,436.21 424.47,436.5 424.76,436.75 425.05,436.94 425.34,437.1 425.63,437.25 425.92,437.36 426.21,437.43 429,362.86 429.29,373.63 429.58,382.93 429.87,390.62 430.16,396.51 430.45,401.68 430.74,407.16 431.03,412.58 431.32,418.43 431.61,423.33 431.9,425.86 432.19,427.71 432.48,429.05 432.77,430.1 433.06,431.01 433.35,431.79 433.64,432.46 433.93,433.05 434.22,433.56 434.51,434.03 434.8,434.46 435.09,434.85 435.38,435.2 435.67,435.5 435.96,435.74 436.25,435.93 436.54,436.1 436.83,436.25 437.12,436.36 437.4,436.43 440.2,361.86 440.49,372.7 440.78,382.06 441.07,389.81 441.36,395.74 441.65,400.94 441.94,406.46 442.23,411.92 442.52,417.81 442.81,422.75 443.1,425.29 443.39,427.15 443.68,428.5 443.97,429.56 444.26,430.47 444.55,431.26 444.84,431.94 445.13,432.53 445.42,433.04 445.71,433.51 446,433.94 446.29,434.34 446.58,434.69 446.87,434.99 447.16,435.23 447.45,435.43 447.74,435.6 448.03,435.75 448.31,435.86 448.6,435.93 451.4,361.36 451.69,372.2 451.98,381.56 452.27,389.31 452.56,395.24 452.85,400.44 453.14,405.96 453.43,411.42 453.72,417.31 454.01,422.25 454.3,424.79 454.59,426.65 454.88,428 455.17,429.06 455.46,429.97 455.75,430.76 456.04,431.44 456.33,432.03 456.62,432.54 456.91,433.01 457.2,433.44 457.49,433.84 457.78,434.19 458.07,434.49 458.36,434.73 458.65,434.93 458.93,435.1 459.22,435.25 459.51,435.36 459.8,435.42 462.6,361.36 462.89,372.2 463.18,381.56 463.47,389.31 463.76,395.24 464.05,400.44 464.34,405.96 464.63,411.42 464.92,417.31 465.21,422.25 465.5,424.79 465.79,426.65 466.08,428 466.37,429.06 466.66,429.97 466.95,430.76 467.24,431.44 467.53,432.03 467.82,432.54 468.11,433.01 468.4,433.44 468.69,433.84 468.98,434.19 469.27,434.49 469.56,434.73 469.84,434.93 470.13,435.1 470.42,435.25 470.71,435.36 471,435.42 473.8,361.16 474.09,372.03 474.38,381.42 474.67,389.18 474.96,395.13 475.25,400.34 475.54,405.88 475.83,411.35 476.12,417.26 476.41,422.21 476.7,424.76 476.99,426.62 477.28,427.98 477.57,429.04 477.86,429.95 478.15,430.74 478.44,431.43 478.73,432.02 479.02,432.53 479.31,433 479.6,433.44 479.89,433.83 480.18,434.18 480.47,434.49 480.75,434.73 481.04,434.92 481.33,435.1 481.62,435.24 481.91,435.36 482.2,435.42 485,361.16 485.29,372.03 485.58,381.42 485.87,389.18 486.16,395.13 486.45,400.34 486.74,405.88 487.03,411.35 487.32,417.26 487.61,422.21 487.9,424.76 488.19,426.62 488.48,427.98 488.77,429.04 489.06,429.95 489.35,430.74 489.64,431.43 489.93,432.02 490.22,432.53 490.51,433 490.8,433.44 491.09,433.83 491.38,434.18 491.66,434.49 491.95,434.73 492.24,434.92 492.53,435.1 492.82,435.24 493.11,435.36 493.4,435.42 496.2,361.16 496.49,372.03 496.78,381.42 497.07,389.18 497.36,395.13 497.65,400.34 497.94,405.88 498.23,411.35 498.52,417.26 498.81,422.21 499.1,424.76 499.39,426.62 499.68,427.98 499.97,429.04 500.26,429.95 500.55,430.74 500.84,431.43 501.13,432.02 501.42,432.53 501.71,433 502,433.44 502.29,433.83 502.57,434.18 502.86,434.49 503.15,434.73 503.44,434.92 503.73,435.1 504.02,435.24 504.31,435.36 504.6,435.42 507.4,361.16 509.2,407.82 510.99,428.41 512.78,431.61 514.57,434.01 516.37,436.29 518.16,438.24 519.95,439.85 521.75,441.2 523.54,442.37 525.33,443.39 527.13,444.3 528.92,445.11 530.71,445.84 532.51,446.53 534.3,447.18 536.09,447.76 537.89,448.24 539.68,448.66 541.47,449.02 543.27,449.34 545.06,449.64 546.85,449.92 548.65,450.19 550.44,450.43 552.23,450.65 554.03,450.83 555.82,451 557.61,451.17 559.4,451.32 561.2,451.46 562.99,451.58 564.78,451.69 566.58,451.78 568.37,451.85 570.16,451.91 571.96,451.97 573.75,452.02 575.54,452.08 577.34,452.12 579.13,452.17 580.92,452.21 582.72,452.24 584.51,452.27 586.3,452.3 588.1,452.32 589.89,452.33 591.68,452.34 593.48,452.35 595.27,452.35 597.06,452.36 598.86,452.36 600.65,452.37 602.44,452.37 604.23,452.37 606.03,452.38 607.82,452.38 609.61,452.39 611.41,452.39 613.2,452.39 614.99,452.4 616.79,452.4 618.58,452.4 620.37,452.41 622.17,452.41 623.96,452.41 625.75,452.41 627.55,452.42 629.34,452.42 631.13,452.42 632.93,452.42 634.72,452.42 636.51,452.43 638.31,452.43 640.1,452.43 641.89,452.43 643.68,452.43 645.48,452.43 647.27,452.43 649.06,452.44 650.86,452.44 652.65,452.44 654.44,452.44 656.24,452.44 658.03,452.44 659.82,452.44 661.62,452.44 663.41,452.44 665.2,452.44 667,452.44" fill="none" stroke="#E38E00" stroke-width="0.9" stroke-linejoin="miter" />
<text x="623" y="280.3" font-size="19.6" fill="#000" text-anchor="middle" font-family="DejaVu Sans, sans-serif">D</text>
</svg>
</body></html>
